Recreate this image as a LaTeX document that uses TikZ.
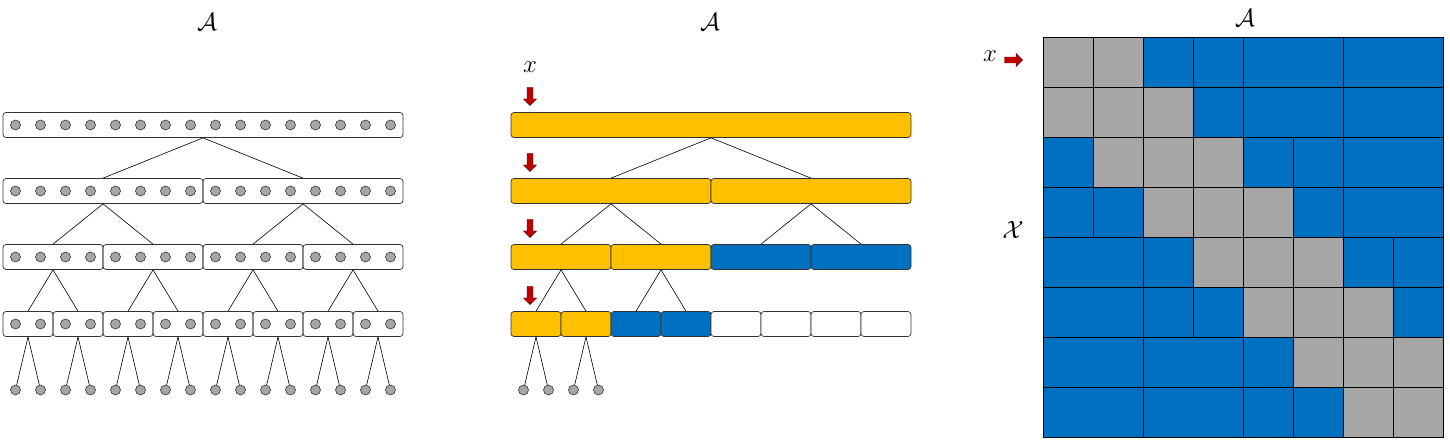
\documentclass[tikz,border=0pt]{standalone}
\usetikzlibrary{shapes.arrows}
\definecolor{yel}{HTML}{FFC000}
\definecolor{blu}{HTML}{0070C0}
\definecolor{gry}{HTML}{A6A6A6}
\definecolor{dred}{HTML}{C00000}
\begin{document}
\begin{tikzpicture}[x=1pt,y=-1pt,
  box/.style={draw=black!80,rounded corners=3pt,minimum height=25pt,inner sep=0pt,line width=0.7pt},
  dot/.style={circle,draw=black!80,fill=gry,minimum size=10pt,inner sep=0pt,line width=0.6pt},
  edge/.style={line width=0.6pt},
  rarr/.style={single arrow,draw=black!60!dred,fill=dred,minimum height=18pt,minimum width=13pt,single arrow head extend=2pt,inner sep=1.5pt},
  cell/.style={draw=black,line width=0.7pt},
  lab/.style={font=\fontsize{32}{36}\selectfont,inner sep=0pt}]
\useasboundingbox (0,0) rectangle (1450,446);
\pgfmathsetmacro{\rowA}{125}
% ---------- left tree ----------
\foreach \k/\y in {0/125,1/191,2/257,3/324}{
  \pgfmathtruncatemacro{\n}{2^\k}
  \pgfmathsetmacro{\w}{400/\n}
  \foreach \i in {1,...,\n}{
    \node[box,minimum width=\w pt] (L\k-\i) at ({3+\w*(\i-0.5)},\y) {};
  }
}
\foreach \j in {1,...,16}{
  \foreach \y/\t in {125/a,191/b,257/c,324/d}{
    \node[dot] (Ld\t\j) at ({3+25*(\j-0.5)},\y) {};
  }
  \node[dot] (Lf\j) at ({3+25*(\j-0.5)},390) {};
}
\foreach \k in {0,1,2}{
  \pgfmathtruncatemacro{\n}{2^\k}
  \pgfmathtruncatemacro{\kk}{\k+1}
  \foreach \i in {1,...,\n}{
    \pgfmathtruncatemacro{\a}{2*\i-1}
    \pgfmathtruncatemacro{\b}{2*\i}
    \draw[edge] (L\k-\i.south) -- (L\kk-\a.north);
    \draw[edge] (L\k-\i.south) -- (L\kk-\b.north);
  }
}
\foreach \i in {1,...,8}{
  \pgfmathtruncatemacro{\a}{2*\i-1}
  \pgfmathtruncatemacro{\b}{2*\i}
  \draw[edge] (L3-\i.south) -- (Lf\a);
  \draw[edge] (L3-\i.south) -- (Lf\b);
}
\node[lab] (A1) at (207,22) {$\mathcal{A}$};
% ---------- middle tree ----------
\node[box,fill=yel,minimum width=400pt] (M0-1) at (711,125) {};
\node[box,fill=yel,minimum width=200pt] (M1-1) at (611,191) {};
\node[box,fill=yel,minimum width=200pt] (M1-2) at (811,191) {};
\foreach \i/\c in {1/yel,2/yel,3/blu,4/blu}
  \node[box,fill=\c,minimum width=100pt] (M2-\i) at ({511+100*(\i-0.5)},257) {};
\foreach \i/\c in {1/yel,2/yel,3/blu,4/blu,5/white,6/white,7/white,8/white}
  \node[box,fill=\c,minimum width=50pt] (M3-\i) at ({511+50*(\i-0.5)},324) {};
\foreach \j in {1,...,4}
  \node[dot] (Mf\j) at ({511+25*(\j-0.5)},390) {};
\draw[edge] (M0-1.south) -- (M1-1.north);
\draw[edge] (M0-1.south) -- (M1-2.north);
\draw[edge] (M1-1.south) -- (M2-1.north);
\draw[edge] (M1-1.south) -- (M2-2.north);
\draw[edge] (M1-2.south) -- (M2-3.north);
\draw[edge] (M1-2.south) -- (M2-4.north);
\draw[edge] (M2-1.south) -- (M3-1.north);
\draw[edge] (M2-1.south) -- (M3-2.north);
\draw[edge] (M2-2.south) -- (M3-3.north);
\draw[edge] (M2-2.south) -- (M3-4.north);
\draw[edge] (M3-1.south) -- (Mf1);
\draw[edge] (M3-1.south) -- (Mf2);
\draw[edge] (M3-2.south) -- (Mf3);
\draw[edge] (M3-2.south) -- (Mf4);
\foreach \y/\t in {95/a,161/b,227/c,294/d}
  \node[rarr,shape border rotate=270] (ar\t) at (530,\y) {};
\node[lab] (A2) at (710,22) {$\mathcal{A}$};
\node[lab] (x2) at (530,67) {$x$};
% ---------- matrix ----------
\begin{scope}[shift={(1043,37)}]
\foreach \r/\c in {0/0,0/1,1/0,1/1,1/2,2/1,2/2,2/3,3/2,3/3,3/4,4/3,4/4,4/5,5/4,5/5,5/6,6/5,6/6,6/7,7/6,7/7}
  \draw[cell,fill=gry] ({50*\c},{50*\r}) rectangle ++(50,50);
\foreach \r/\a/\b in {0/2/2,0/3/3,0/4/5,0/6/7,
  1/3/3,1/4/5,1/6/7,
  2/0/0,2/4/4,2/5/5,2/6/7,
  3/0/0,3/1/1,3/5/5,3/6/7,
  4/0/1,4/2/2,4/6/6,4/7/7,
  5/0/1,5/2/2,5/3/3,5/7/7,
  6/0/1,6/2/3,6/4/4,
  7/0/1,7/2/3,7/4/4,7/5/5}
  \draw[cell,fill=blu] ({50*\a},{50*\r}) rectangle ({50*(\b+1)},{50*(\r+1)});
\end{scope}
\node[lab] (A3) at (1245,18) {$\mathcal{A}$};
\node[lab] (x3) at (990,56) {$x$};
\node[rarr] (ar3) at (1012,60) {};
\node[lab,font=\fontsize{40}{44}\selectfont] (X3) at (1013,230) {$\mathcal{X}$};
\end{tikzpicture}
\end{document}
